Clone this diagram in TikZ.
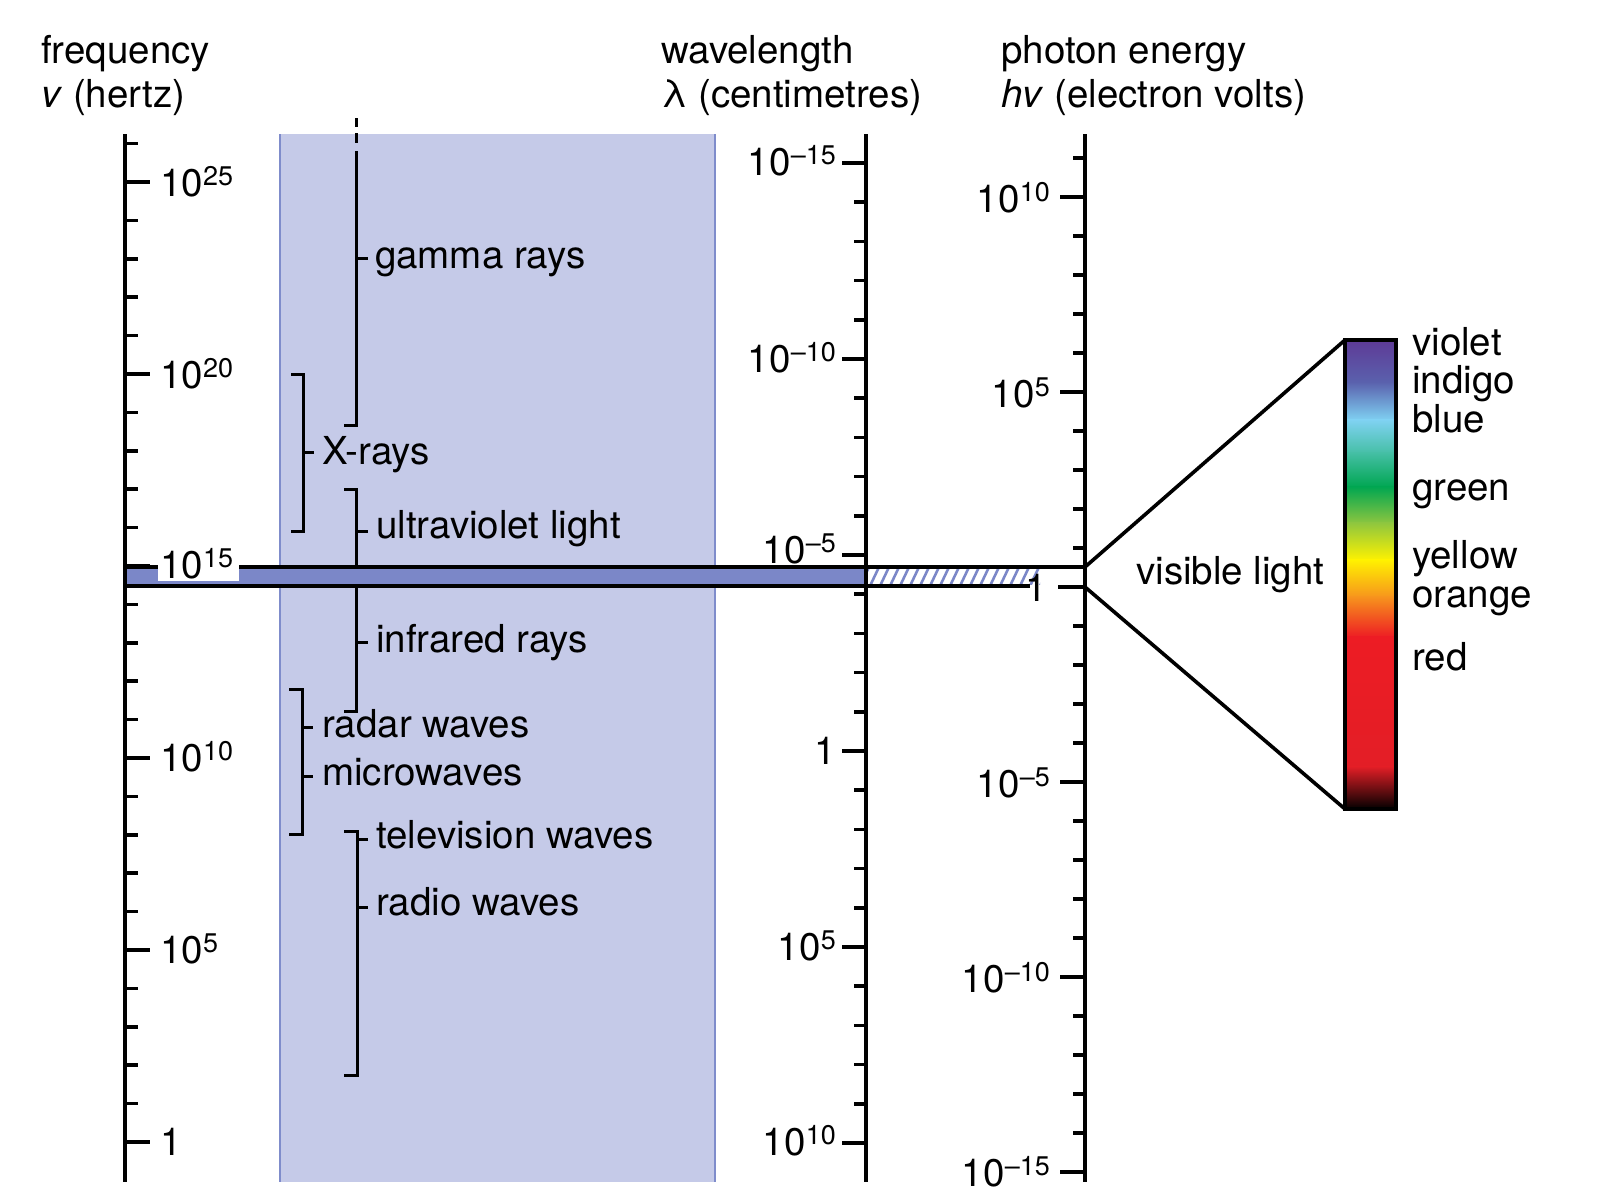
\documentclass[tikz,border=0pt]{standalone}
\usepackage{fontspec}
\setmainfont{TeX Gyre Heros}
\definecolor{colFill}{HTML}{C5CAE8}
\definecolor{colEdge}{HTML}{7F8CCB}
\definecolor{colBand}{HTML}{7B87C8}
\definecolor{sp1}{HTML}{5E3A96}
\definecolor{sp2}{HTML}{5A62AE}
\definecolor{sp3}{HTML}{80D2F3}
\definecolor{sp4}{HTML}{45BFA5}
\definecolor{sp5}{HTML}{00A651}
\definecolor{sp6}{HTML}{8DC63F}
\definecolor{sp7}{HTML}{FFF200}
\definecolor{sp8}{HTML}{F7941D}
\definecolor{sp9}{HTML}{ED1C24}
\definecolor{sp10}{HTML}{E31E26}
\definecolor{sp11}{HTML}{000000}
\newcommand\lab{\fontsize{38.5}{44}\selectfont}
\newcommand\pw[1]{10\raisebox{11pt}{\fontsize{27}{27}\selectfont #1}}
\begin{document}
\begin{tikzpicture}[x=1pt,y=-1pt,
  ax/.style={line width=3.6pt},
  brk/.style={line width=3pt},
  lbl/.style={anchor=base west,inner sep=0pt,font=\lab},
  lblr/.style={anchor=base east,inner sep=0pt,font=\lab},
  hatchline/.style={colBand,line width=2.6pt}]
\useasboundingbox (0,0) rectangle (1600,1203);
% blue column
\fill[colFill] (280,134) rectangle (715,1182);
\draw[colEdge,line width=2.8pt] (280,134) -- (280,1182) (715,134) -- (715,1182);
% brackets
\draw[brk] (356,118) -- (356,127);
\draw[brk] (356,133) -- (356,143);
\draw[brk] (344,425) -- (356,425) -- (356,151);
\draw[brk] (356,258) -- (368,258);
\draw[brk] (291,374) -- (303,374) -- (303,531) -- (291,531);
\draw[brk] (303,452) -- (314,452);
\draw[brk] (344,489) -- (356,489) -- (356,567);
\draw[brk] (356,531) -- (368,531);
\draw[brk] (356,586) -- (356,711) -- (344,711);
\draw[brk] (356,642) -- (368,642);
\draw[brk] (289,689) -- (302,689) -- (302,834) -- (289,834);
\draw[brk] (302,727) -- (313,727);
\draw[brk] (302,776) -- (313,776);
\draw[brk] (344,831) -- (357,831) -- (357,1075) -- (344,1075);
\draw[brk] (357,839) -- (368,839);
\draw[brk] (357,907) -- (368,907);
% band
\fill[colBand] (125,567) rectangle (866,586);
\begin{scope}
\clip (866,568.5) rectangle (1040,584.5);
\foreach \x in {850,860,...,1050} \draw[hatchline] (\x,586) -- (\x+9,567);
\end{scope}
\draw[ax] (125,567) -- (1085,567);
\draw[ax] (125,586) -- (1030,586);
\fill[white] (158,564.5) rectangle (239,581);
% frequency axis
\draw[ax] (125,134) -- (125,1182);
\foreach \n in {0,...,26} {
  \pgfmathsetmacro\yy{1142-38.4*\n}
  \pgfmathtruncatemacro\mm{mod(\n,5)}
  \ifnum\mm=0 \draw[ax] (125,\yy) -- (150,\yy); \else \draw[ax] (125,\yy) -- (138,\yy); \fi
}
\node[lbl] (f25) at (160,196) {\pw{25}};
\node[lbl] (f20) at (160,388) {\pw{20}};
\node[lbl] (f15) at (160,578) {\pw{15}};
\node[lbl] (f10) at (160,771) {\pw{10}};
\node[lbl] (f5) at (160,963) {\pw{5}};
\node[lbl] (f0) at (160,1155) {1};
% wavelength axis
\draw[ax] (866,134) -- (866,1182);
\foreach \n in {-15,...,10} {
  \pgfmathsetmacro\yy{163+39.2*(\n+15)}
  \pgfmathtruncatemacro\mm{mod(\n+15,5)}
  \ifnum\mm=0 \draw[ax] (842,\yy) -- (866,\yy); \else \draw[ax] (854,\yy) -- (866,\yy); \fi
}
\node[lblr] (w15) at (836,175) {\pw{–15}};
\node[lblr] (w10) at (836,372) {\pw{–10}};
\node[lblr] (w5) at (836,563) {\pw{–5}};
\node[lblr] (w0) at (836,764) {1};
\node[lblr] (wp5) at (836,960) {\pw{5}};
\node[lblr] (wp10) at (836,1155) {\pw{10}};
% energy axis
\draw[ax] (1085,134) -- (1085,1182);
\foreach \n in {-15,...,11} {
  \pgfmathsetmacro\yy{587-39*\n}
  \pgfmathtruncatemacro\mm{mod(\n+15,5)}
  \ifnum\mm=0 \draw[ax] (1060,\yy) -- (1085,\yy); \else \draw[ax] (1073,\yy) -- (1085,\yy); \fi
}
\draw[line width=4.5pt] (1058,587) -- (1085,587);
\node[lblr] (e10) at (1050,212) {\pw{10}};
\node[lblr] (e5) at (1050,407) {\pw{5}};
\node[lblr] (e0) at (1047,601) {1};
\node[lblr] (em5) at (1050,797) {\pw{–5}};
\node[lblr] (em10) at (1050,992) {\pw{–10}};
\node[lblr] (em15) at (1050,1186) {\pw{–15}};
% visible light cone
\coordinate (apt) at (1085,567);
\coordinate (apb) at (1085,587);
\coordinate (bt) at (1345,340);
\coordinate (bb) at (1345,809);
\draw[ax] (apt) -- (bt);
\draw[ax] (apb) -- (bb);
% spectrum bar
\foreach \ya/\ca/\yb/\cb in {340/sp1/383/sp2,383/sp2/420/sp3,420/sp3/453/sp4,453/sp4/487/sp5,487/sp5/523/sp6,523/sp6/560/sp7,560/sp7/597/sp8,597/sp8/637/sp9,637/sp9/767/sp10,767/sp10/809/sp11}
  \shade[top color=\ca,bottom color=\cb] (1345,\ya-0.6) rectangle (1396,\yb+0.6);
\draw[ax] (1345,340) rectangle (1396,809);
\node[lbl] (vis) at (1136,584) {visible light};
\node[lbl] (cv) at (1412,355) {violet};
\node[lbl] (ci) at (1412,393) {indigo};
\node[lbl] (cb) at (1412,432) {blue};
\node[lbl] (cg) at (1412,500) {green};
\node[lbl] (cy) at (1412,568) {yellow};
\node[lbl] (co) at (1412,607) {orange};
\node[lbl] (cr) at (1412,670) {red};
% band labels
\node[lbl] (gam) at (375,268) {gamma rays};
\node[lbl] (xr) at (322,464) {X-rays};
\node[lbl] (uv) at (376,538) {ultraviolet light};
\node[lbl] (ir) at (376,652) {infrared rays};
\node[lbl] (rad) at (322,737) {radar waves};
\node[lbl] (mic) at (322,785) {microwaves};
\node[lbl] (tv) at (376,848) {television waves};
\node[lbl] (rw) at (376,915) {radio waves};
% headers
\node[lbl] (h1a) at (41,63) {frequency};
\node[lbl] (h1b) at (41,107) {\textit{v} (hertz)};
\node[lbl] (h2a) at (661,63) {wavelength};
\node[lbl] (h2b) at (661,107) {λ (centimetres)};
\node[lbl] (h3a) at (1001,63) {photon energy};
\node[lbl] (h3b) at (1001,107) {\textit{hv} (electron volts)};
\end{tikzpicture}
\end{document}
